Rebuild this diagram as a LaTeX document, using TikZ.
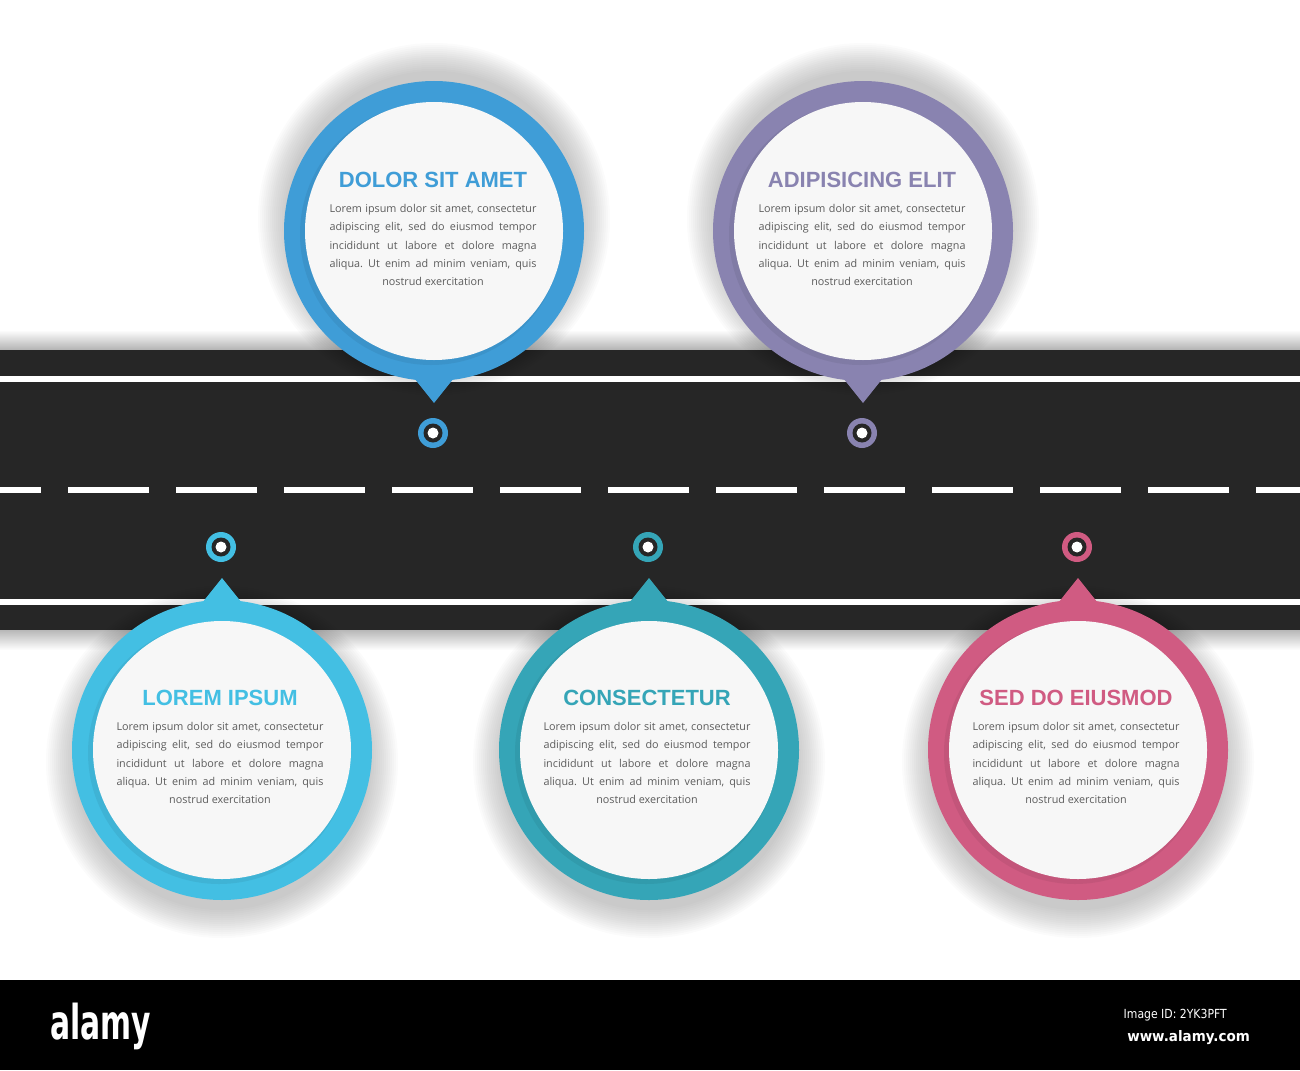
\documentclass[tikz,border=0pt]{standalone}
\usepackage{fontspec}
\setmainfont{Open Sans}
\newfontfamily\headfont{Liberation Sans}
\newfontfamily\markfont{DejaVu Sans}
\usetikzlibrary{positioning}
\frenchspacing
\definecolor{roadgray}{HTML}{262626}
\definecolor{paper}{HTML}{F7F7F7}
\definecolor{txtgray}{HTML}{5C5C5C}
\definecolor{stepblue}{HTML}{3F9DD7}
\definecolor{steppurple}{HTML}{8983B0}
\definecolor{stepcyan}{HTML}{43BFE3}
\definecolor{stepteal}{HTML}{35A5B7}
\definecolor{steppink}{HTML}{D05B82}

\newcommand{\lorembody}{%
  \makebox[207pt][s]{Lorem ipsum dolor sit amet, consectetur}\\
  \makebox[207pt][s]{adipiscing elit, sed do eiusmod tempor}\\
  \makebox[207pt][s]{incididunt ut labore et dolore magna}\\
  \makebox[207pt][s]{aliqua. Ut enim ad minim veniam, quis}\\
  nostrud exercitation}

\begin{document}
\begin{tikzpicture}[x=1pt, y=-1pt,
  ring/.style={circle, minimum size=300pt, inner sep=0pt},
  disc/.style={circle, fill=paper, minimum size=258pt, inner sep=0pt},
  ttl/.style={font=\headfont\bfseries\fontsize{22}{26}\selectfont,
              anchor=base, inner sep=0pt},
  body/.style={font=\fontsize{10.8}{18.3}\selectfont, text=txtgray,
               align=center, anchor=north, inner sep=0pt},
  pin/.style={circle, minimum size=30pt, inner sep=0pt},
  pinhole/.style={circle, fill=roadgray, minimum size=19pt, inner sep=0pt},
  pindot/.style={circle, fill=white, minimum size=11pt, inner sep=0pt},
  glow/.style={black, opacity=0.014},
  inshade/.style={black, opacity=0.06},
]
\useasboundingbox (0,0) rectangle (1300,1070);

% ---- Road ----
\shade[top color=white, bottom color=black!30] (0,330) rectangle (1300,350);
\shade[top color=black!28, bottom color=white] (0,630) rectangle (1300,650);
\fill[roadgray] (0,350) rectangle (1300,630);
\fill[white] (0,376) rectangle (1300,382);
\fill[white] (0,599) rectangle (1300,605);
\foreach \x in {-40,68,...,1300}
  \fill[white] (\x,487) rectangle ++(81,6);

% ---- Soft shadows behind the bubbles ----
\foreach \cx/\cy in {434/219, 863/219, 222/762, 649/762, 1078/762}
  \foreach \k in {0,...,14}
    \fill[glow] (\cx,\cy) circle (148+2*\k);

% ---- Dolor sit amet (top, blue) ----
\node[ring, fill=stepblue] (ring1) at (434,231) {};
\coordinate (tip1) at (434,403);
\fill[stepblue] (ring1.263) -- (tip1) -- (ring1.277) -- cycle;
\fill[inshade] (431,234) circle (131);
\node[disc] (disc1) at (ring1) {};
\node[ttl, text=stepblue] (ttl1) at (433,187) {DOLOR SIT AMET};
\node[body] (txt1) at (433,204) {\lorembody};
\node[pin, fill=stepblue] (pin1) at (433,433) {};
\node[pinhole] (pin1h) at (pin1) {};
\node[pindot] (pin1d) at (pin1) {};

% ---- Adipisicing elit (top, purple) ----
\node[ring, fill=steppurple] (ring2) at (863,231) {};
\coordinate (tip2) at (863,403);
\fill[steppurple] (ring2.263) -- (tip2) -- (ring2.277) -- cycle;
\fill[inshade] (860,234) circle (131);
\node[disc] (disc2) at (ring2) {};
\node[ttl, text=steppurple] (ttl2) at (862,187) {ADIPISICING ELIT};
\node[body] (txt2) at (862,204) {\lorembody};
\node[pin, fill=steppurple] (pin2) at (862,433) {};
\node[pinhole] (pin2h) at (pin2) {};
\node[pindot] (pin2d) at (pin2) {};

% ---- Lorem ipsum (bottom, cyan) ----
\node[ring, fill=stepcyan] (ring3) at (222,750) {};
\coordinate (tip3) at (222,578);
\fill[stepcyan] (ring3.83) -- (tip3) -- (ring3.97) -- cycle;
\fill[inshade] (219,753) circle (131);
\node[disc] (disc3) at (ring3) {};
\node[ttl, text=stepcyan] (ttl3) at (220,705) {LOREM IPSUM};
\node[body] (txt3) at (220,722) {\lorembody};
\node[pin, fill=stepcyan] (pin3) at (221,547) {};
\node[pinhole] (pin3h) at (pin3) {};
\node[pindot] (pin3d) at (pin3) {};

% ---- Consectetur (bottom, teal) ----
\node[ring, fill=stepteal] (ring4) at (649,750) {};
\coordinate (tip4) at (649,578);
\fill[stepteal] (ring4.83) -- (tip4) -- (ring4.97) -- cycle;
\fill[inshade] (646,753) circle (131);
\node[disc] (disc4) at (ring4) {};
\node[ttl, text=stepteal] (ttl4) at (647,705) {CONSECTETUR};
\node[body] (txt4) at (647,722) {\lorembody};
\node[pin, fill=stepteal] (pin4) at (648,547) {};
\node[pinhole] (pin4h) at (pin4) {};
\node[pindot] (pin4d) at (pin4) {};

% ---- Sed do eiusmod (bottom, pink) ----
\node[ring, fill=steppink] (ring5) at (1078,750) {};
\coordinate (tip5) at (1078,578);
\fill[steppink] (ring5.83) -- (tip5) -- (ring5.97) -- cycle;
\fill[inshade] (1075,753) circle (131);
\node[disc] (disc5) at (ring5) {};
\node[ttl, text=steppink] (ttl5) at (1076,705) {SED DO EIUSMOD};
\node[body] (txt5) at (1076,722) {\lorembody};
\node[pin, fill=steppink] (pin5) at (1077,547) {};
\node[pinhole] (pin5h) at (pin5) {};
\node[pindot] (pin5d) at (pin5) {};

% ---- Footer bar ----
\fill[black] (0,980) rectangle (1300,1070);
\node[text=white, anchor=base west, inner sep=0pt,
      font=\markfont\bfseries\fontsize{48}{50}\selectfont] (logo) at (50,1039)
  {\scalebox{0.62}[1]{alamy}};
\node[text=white, anchor=base east, inner sep=0pt,
      font=\markfont\fontsize{12.5}{14}\selectfont] (imgid) at (1227,1018)
  {\scalebox{0.87}[1]{Image ID: 2YK3PFT}};
\node[text=white, anchor=base east, inner sep=0pt,
      font=\markfont\bfseries\fontsize{14.5}{16}\selectfont] (site) at (1250,1041)
  {\scalebox{0.93}[1]{www.alamy.com}};

\end{tikzpicture}
\end{document}
